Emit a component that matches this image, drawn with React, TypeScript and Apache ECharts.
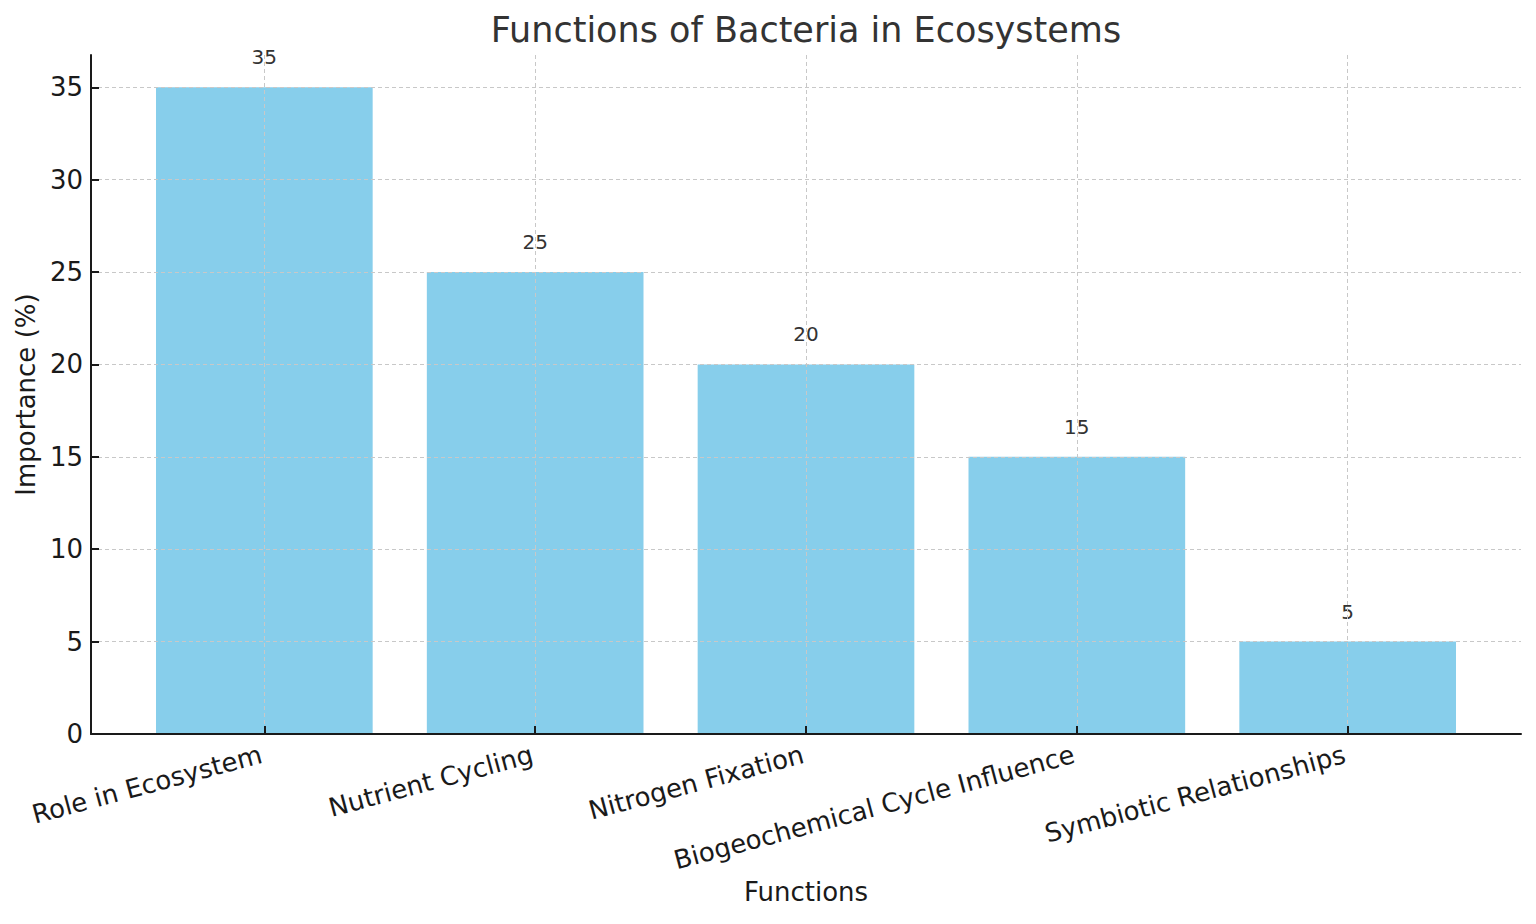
import React, { useEffect, useRef } from 'react';
import * as echarts from 'echarts';

const CATEGORIES = [
  'Role in Ecosystem',
  'Nutrient Cycling',
  'Nitrogen Fixation',
  'Biogeochemical Cycle Influence',
  'Symbiotic Relationships',
];
const VALUES = [35, 25, 20, 15, 5];
const X_POSITIONS = [0, 1, 2, 3, 4];
const Y_TICKS = [0, 5, 10, 15, 20, 25, 30, 35];

const W = 1536;
const H = 924;
const FONT = 'DejaVu Sans';

export default function App() {
  const ref = useRef<HTMLDivElement>(null);

  useEffect(() => {
    if (!ref.current) return;
    const chart = echarts.init(ref.current, null, { renderer: 'svg' });

    const gridLeft = 91;
    const gridRight = 15;
    const gridTop = 55;
    const gridBottom = 190;
    const barFrac = 0.8;
    const n = CATEGORIES.length;
    const span = n - 1 + barFrac;
    const xMin = -barFrac / 2 - span * 0.05;
    const xMax = n - 1 + barFrac / 2 + span * 0.05;
    const yMax = Math.max(...VALUES) * 1.05;
    const gridW = W - gridLeft - gridRight;
    const barWidth = (barFrac * gridW) / (xMax - xMin);

    const axisColor = '#1a1a1a';
    const gridLine = { show: true, lineStyle: { color: '#c8c8c8', width: 1, type: [4, 3] as any } };

    chart.setOption({
      animation: false,
      backgroundColor: '#ffffff',
      title: {
        text: 'Functions of Bacteria in Ecosystems',
        left: gridLeft + gridW / 2,
        top: 12,
        textAlign: 'center',
        padding: 0,
        textStyle: { fontFamily: FONT, fontSize: 35, fontWeight: 'normal', color: '#333333' },
      },
      grid: {
        left: gridLeft,
        right: gridRight,
        top: gridTop,
        bottom: gridBottom,
        containLabel: false,
        outerBoundsMode: 'none',
      },
      xAxis: {
        type: 'value',
        min: xMin,
        max: xMax,
        z: 5,
        name: 'Functions',
        nameLocation: 'middle',
        nameGap: 145,
        nameTextStyle: { fontFamily: FONT, fontSize: 26, color: axisColor },
        axisLine: { show: true, onZero: false, lineStyle: { color: axisColor, width: 2 } },
        axisTick: {
          show: true,
          inside: true,
          length: 8,
          customValues: X_POSITIONS,
          lineStyle: { color: axisColor, width: 2 },
        },
        axisLabel: {
          show: true,
          customValues: X_POSITIONS,
          formatter: (v: number) => CATEGORIES[Math.round(v)] ?? '',
          rotate: 15,
          margin: 19,
          padding: [0, 3, 0, 0],
          fontFamily: FONT,
          fontSize: 26,
          color: axisColor,
        },
        splitLine: gridLine,
      },
      yAxis: {
        type: 'value',
        min: 0,
        max: yMax,
        z: 5,
        name: 'Importance (%)',
        nameLocation: 'middle',
        nameGap: 49,
        nameRotate: 90,
        nameTextStyle: { fontFamily: FONT, fontSize: 26, color: axisColor },
        axisLine: { show: true, onZero: false, lineStyle: { color: axisColor, width: 2 } },
        axisTick: {
          show: true,
          inside: true,
          length: 8,
          customValues: Y_TICKS,
          lineStyle: { color: axisColor, width: 2 },
        },
        axisLabel: {
          show: true,
          customValues: Y_TICKS,
          margin: 8,
          fontFamily: FONT,
          fontSize: 26,
          color: axisColor,
        },
        splitLine: gridLine,
      },
      series: [
        {
          type: 'bar',
          data: X_POSITIONS.map((x, i) => [x, VALUES[i]]),
          barWidth,
          itemStyle: { color: '#87CEEB' },
          label: {
            show: true,
            position: 'top',
            distance: 20,
            fontFamily: FONT,
            fontSize: 20,
            color: '#333333',
          },
        },
      ],
    });

    return () => chart.dispose();
  }, []);

  return (
    <div
      ref={ref}
      style={{ position: 'absolute', left: 0, top: 0, width: W, height: H, background: '#fff' }}
    />
  );
}
